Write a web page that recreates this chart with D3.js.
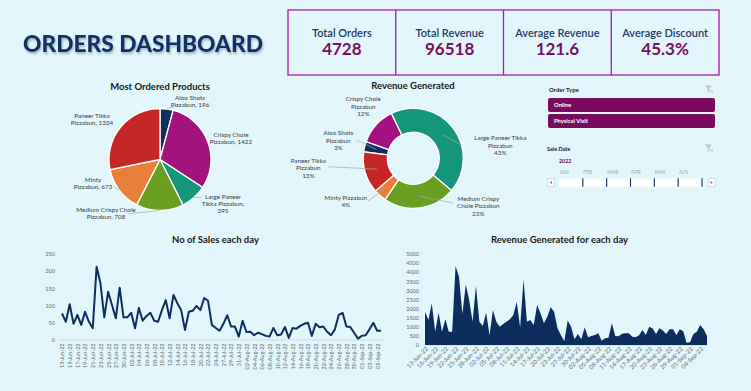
<!DOCTYPE html>
<html><head><meta charset="utf-8">
<script src="https://cdn.jsdelivr.net/npm/d3@7"></script>
<style>html,body{margin:0;padding:0;background:#e2f6fc;overflow:hidden}svg{display:block;font-family:Lato,"Open Sans",sans-serif}</style>
</head><body><svg id="c" width="751" height="391"></svg>
<script>
// ---------------- DATA ----------------
const products = ["Aloo Shots Pizzabun","Crispy Chole Pizzabun","Large Paneer Tikka Pizzabun","Medium Crispy Chole Pizzabun","Minty Pizzabun","Paneer Tikka Pizzabun"];
const productOrders = [196,1422,395,708,673,1334];
const productRevenue = [3185,11968,41889,22585,3957,12934];
const productColors = ["#0c2f5e","#a3127f","#14967b","#6a9f22","#e8803a","#c52727"];
const kpiLabels = ["Total Orders","Total Revenue","Average Revenue","Average Discount"];
const kpiValues = ["4728","96518","121.6","45.3%"];
const orderTypes = ["Online","Physical Visit"];
const saleYear = "2022";
const months = ["JAN","FEB","MAR","APR","MAY","JUN"];
const dates = ["13-Jun-22","14-Jun-22","15-Jun-22","16-Jun-22","17-Jun-22","18-Jun-22","19-Jun-22","20-Jun-22","21-Jun-22","22-Jun-22","23-Jun-22","24-Jun-22","25-Jun-22","26-Jun-22","27-Jun-22","28-Jun-22","30-Jun-22",
"01-Jul-22","02-Jul-22","03-Jul-22","04-Jul-22","05-Jul-22","06-Jul-22","07-Jul-22","08-Jul-22","09-Jul-22","10-Jul-22","11-Jul-22","12-Jul-22","13-Jul-22","14-Jul-22","15-Jul-22","16-Jul-22","17-Jul-22","18-Jul-22","19-Jul-22","20-Jul-22","21-Jul-22","22-Jul-22","23-Jul-22","24-Jul-22","26-Jul-22","27-Jul-22","28-Jul-22","29-Jul-22","30-Jul-22","31-Jul-22",
"01-Aug-22","02-Aug-22","03-Aug-22","04-Aug-22","05-Aug-22","06-Aug-22","07-Aug-22","08-Aug-22","09-Aug-22","10-Aug-22","11-Aug-22","12-Aug-22","13-Aug-22","14-Aug-22","15-Aug-22","16-Aug-22","17-Aug-22","18-Aug-22","19-Aug-22","20-Aug-22","21-Aug-22","22-Aug-22","23-Aug-22","24-Aug-22","25-Aug-22","26-Aug-22","27-Aug-22","28-Aug-22","29-Aug-22","30-Aug-22","31-Aug-22",
"01-Sep-22","02-Sep-22","03-Sep-22","04-Sep-22","05-Sep-22","06-Sep-22"];
const dailySales = [77,53,104,47,73,44,82,53,34,213,165,66,140,102,63,152,66,66,79,34,93,56,70,79,56,53,87,116,63,131,107,87,29,82,85,99,87,122,114,44,35,27,47,72,39,39,10,56,23,24,14,21,17,12,10,35,14,16,38,6,35,33,41,47,50,12,47,37,39,24,14,31,73,79,39,38,21,4,12,14,31,50,27,27];
const dailyRevenue = [1830,1370,2290,730,1775,730,1410,730,730,4340,3750,1700,3330,2470,1280,3260,1280,1040,1775,550,1920,1280,1000,1150,1280,1410,1650,2380,970,3600,1280,1370,1100,2200,1740,1190,1555,2070,1830,915,550,200,1340,1000,310,600,310,970,420,500,550,640,240,370,400,1190,500,480,620,640,640,450,420,530,820,550,1000,900,600,915,790,600,860,860,550,860,750,130,150,600,730,1100,860,500];
const salesTicks = [0,50,100,150,200,250];
const revenueTicks = [0,500,1000,1500,2000,2500,3000,3500,4000,4500,5000];

// ---------------- LAYOUT (label placement, not data) ----------------
const pieLabelLayout = [
  {lines:["Aloo Shots","Pizzabun, {v}"], c:[30,-58], lead:[17.7,-54]},
  {lines:["Crispy Chole","Pizzabun, {v}"], c:[71,-21]},
  {lines:["Large Paneer","Tikka Pizzabun,","{v}"], c:[63,44], lead:[41.7,37.7]},
  {lines:["Medium Crispy Chole","Pizzabun, {v}"], c:[-54,54], lead:[-31.7,54.3]},
  {lines:["Minty","Pizzabun, {v}"], c:[-67,23.5], lead:[-46,27]},
  {lines:["Paneer Tikka","Pizzabun, {v}"], c:[-68,-40]}
];
const donutLabelLayout = [
  {lines:["Aloo Shots","Pizzabun","{p}"], c:[-75,-18], lead:[-56.6,-18.3]},
  {lines:["Crispy Chole","Pizzabun","{p}"], c:[-50,-52]},
  {lines:["Large Paneer Tikka","Pizzabun","{p}"], c:[87,-13], lead:[48.4,-13.3]},
  {lines:["Medium Crispy","Chole Pizzabun","{p}"], c:[65,48], lead:[39.7,44.7]},
  {lines:["Minty Pizzabun","{p}"], c:[-67.5,43], lead:[-45.3,42.7]},
  {lines:["Paneer Tikka","Pizzabun","{p}"], c:[-105,10], lead:[-85.3,8.4]}
];

const svg = d3.select("#c");
svg.append("rect").attr("width",751).attr("height",391).attr("fill","#e2f6fc");
const defs = svg.append("defs");
defs.append("filter").attr("id","sh").attr("x","-5%").attr("y","-30%").attr("width","112%").attr("height","170%")
  .append("feDropShadow").attr("dx",1).attr("dy",2).attr("stdDeviation",1.1).attr("flood-color","#6f7f90").attr("flood-opacity",0.55);

// Title
svg.append("text").attr("x",23).attr("y",51.5).attr("textLength",240).attr("lengthAdjust","spacingAndGlyphs")
  .attr("font-size",23.5).attr("font-weight",900).attr("fill","#0f3164").attr("filter","url(#sh)").text("ORDERS DASHBOARD");

// KPI boxes
const kx = d3.scaleBand().domain(kpiLabels).range([288,719]);
const kpi = svg.append("g");
kpi.append("rect").attr("x",288).attr("y",10).attr("width",431).attr("height",65)
  .attr("fill","none").attr("stroke","#a31caa").attr("stroke-width",1.3);
kpi.selectAll("line").data(kpiLabels.slice(1)).join("line")
  .attr("x1",d=>kx(d)).attr("x2",d=>kx(d)).attr("y1",10).attr("y2",75)
  .attr("stroke","#a31caa").attr("stroke-width",1.3);
kpi.selectAll("text.kl").data(kpiLabels).join("text").attr("class","kl")
  .attr("x",d=>kx(d)+kx.bandwidth()/2).attr("y",37).attr("text-anchor","middle")
  .attr("font-size",11).attr("font-weight",600).attr("fill","#1f3a66").text(d=>d);
kpi.selectAll("text.kv").data(kpiValues).join("text").attr("class","kv")
  .attr("x",(d,i)=>kx(kpiLabels[i])+kx.bandwidth()/2).attr("y",55).attr("text-anchor","middle")
  .attr("font-size",17).attr("font-weight",700).attr("fill","#7a0e60").text(d=>d);

// Chart titles
function title(x,y,t){svg.append("text").attr("x",x).attr("y",y).attr("text-anchor","middle")
  .attr("font-size",9.5).attr("font-weight",700).attr("fill","#1a1a1a").text(t);}
title(160,89.5,"Most Ordered Products");
title(413,88.5,"Revenue Generated");
title(215.5,243,"No of Sales each day");
title(559.5,243,"Revenue Generated for each day");

function drawLabels(g, layout, fmt){
  layout.forEach((L,i)=>{
    const n = L.lines.length, lh = 7.2;
    const t = g.append("text").attr("text-anchor","middle").attr("font-size",6.3).attr("fill","#404040");
    L.lines.forEach((s,k)=>{
      t.append("tspan").attr("x",L.c[0]).attr("y",L.c[1]+(k-(n-1)/2)*lh+2.2).text(fmt(s,i));
    });
  });
}

// Pie: Most Ordered Products
const R1 = 51;
const pieGen = d3.pie().sort(null).value(d=>d);
const pieArcs = pieGen(productOrders);
const arc1 = d3.arc().innerRadius(0).outerRadius(R1);
const gp = svg.append("g").attr("transform","translate(160,159.5)");
gp.selectAll("path").data(pieArcs).join("path").attr("d",arc1)
  .attr("fill",(d,i)=>productColors[i]).attr("stroke","#fff").attr("stroke-width",1.3);
pieArcs.forEach((a,i)=>{
  const L = pieLabelLayout[i]; if(!L.lead) return;
  const m = (a.startAngle+a.endAngle)/2;
  gp.append("line").attr("x1",R1*Math.sin(m)).attr("y1",-R1*Math.cos(m)).attr("x2",L.lead[0]).attr("y2",L.lead[1])
    .attr("stroke","#a6a6a6").attr("stroke-width",0.7);
});
drawLabels(gp,pieLabelLayout,(s,i)=>s.replace("{v}",productOrders[i]));

// Donut: Revenue Generated
const totalRev = d3.sum(productRevenue);
const start2 = -82.5*Math.PI/180;
const donutGen = d3.pie().sort(null).value(d=>d).startAngle(start2).endAngle(start2+2*Math.PI);
const donutArcs = donutGen(productRevenue);
const arc2 = d3.arc().innerRadius(26).outerRadius(50);
const gd = svg.append("g").attr("transform","translate(413.3,158.3)");
gd.selectAll("path").data(donutArcs).join("path").attr("d",arc2)
  .attr("fill",(d,i)=>productColors[i]).attr("stroke","#fff").attr("stroke-width",1.3);
donutArcs.forEach((a,i)=>{
  const L = donutLabelLayout[i]; if(!L.lead) return;
  const c = arc2.centroid(a);
  gd.append("line").attr("x1",c[0]).attr("y1",c[1]).attr("x2",L.lead[0]).attr("y2",L.lead[1])
    .attr("stroke","#a6a6a6").attr("stroke-width",0.7);
});
const pct = d3.format(".0%");
drawLabels(gd,donutLabelLayout,(s,i)=>s.replace("{p}",pct(productRevenue[i]/totalRev)));

// Slicers
const sl = svg.append("g");
function funnel(x,y){
  const g = sl.append("g").attr("transform",`translate(${x},${y})`);
  g.append("path").attr("d","M0,0 H7 L4.3,3.2 V6.5 L2.7,7.3 V3.2 Z").attr("fill","#c4c4c4");
  g.append("path").attr("d","M5,4.5 L8,7.5 M8,4.5 L5,7.5").attr("stroke","#c4c4c4").attr("stroke-width",0.9);
}
sl.append("text").attr("x",549).attr("y",91.5).attr("font-size",6).attr("font-weight",700).attr("fill","#222").text("Order Type");
funnel(705,85.5);
const oy = d3.scaleBand().domain(orderTypes).range([98,128]).paddingInner(0.12);
sl.selectAll("rect.ot").data(orderTypes).join("rect").attr("class","ot")
  .attr("x",548).attr("y",d=>oy(d)).attr("width",167).attr("height",oy.bandwidth()).attr("rx",2)
  .attr("fill","#7a0b5d");
sl.selectAll("text.ot").data(orderTypes).join("text").attr("class","ot")
  .attr("x",554).attr("y",d=>oy(d)+oy.bandwidth()/2+2.1).attr("font-size",5.8).attr("font-weight",700)
  .attr("fill","#fff").text(d=>d);
sl.append("text").attr("x",547).attr("y",150.5).attr("font-size",5.5).attr("font-weight",700).attr("fill","#222").text("Sale Date");
funnel(705,144.5);
sl.append("text").attr("x",559).attr("y",162.5).attr("font-size",5.3).attr("font-weight",700).attr("fill","#7a0b5d").text(saleYear);
const mx = d3.scaleBand().domain(months).range([559,702]);
sl.selectAll("text.mo").data(months).join("text").attr("class","mo")
  .attr("x",d=>mx(d)+0.5).attr("y",174).attr("font-size",5).attr("fill","#a6a6a6").text(d=>d);
sl.append("rect").attr("x",559).attr("y",178.3).attr("width",143).attr("height",8.4).attr("fill","#fff");
sl.selectAll("line.mo").data(months).join("line").attr("class","mo")
  .attr("x1",d=>mx(d)+mx.bandwidth()).attr("x2",d=>mx(d)+mx.bandwidth()).attr("y1",178.3).attr("y2",186.7)
  .attr("stroke","#0f2d55").attr("stroke-width",1.1);
[[547.5,-1],[708.5,1]].forEach(([x,dir])=>{
  sl.append("rect").attr("x",x).attr("y",178.3).attr("width",6.5).attr("height",8.4).attr("fill","#fff").attr("stroke","#c8c8c8").attr("stroke-width",0.6);
  const cx = x+3.25, cy = 182.5;
  sl.append("path").attr("d",dir<0?`M${cx+1.2},${cy-1.8} L${cx-1.2},${cy} L${cx+1.2},${cy+1.8} Z`:`M${cx-1.2},${cy-1.8} L${cx+1.2},${cy} L${cx-1.2},${cy+1.8} Z`).attr("fill","#8a8a8a");
});

// Line chart: No of Sales each day
const xL = d3.scalePoint().domain(dates).range([62,381]);
const yL = d3.scaleLinear().domain([0,250]).range([340,254]);
const gl = svg.append("g");
gl.append("line").attr("x1",59).attr("x2",384).attr("y1",yL(0)).attr("y2",yL(0)).attr("stroke","#cfd4d8").attr("stroke-width",0.8);
const yAxL = gl.append("g").attr("transform","translate(57,0)")
  .call(d3.axisLeft(yL).tickValues(salesTicks).tickFormat(d3.format("d")).tickSize(0).tickPadding(2));
yAxL.select(".domain").remove();
yAxL.selectAll("text").attr("font-size",5.5).attr("fill","#666").attr("font-family","Lato,sans-serif");
const xAxL = gl.append("g").attr("transform",`translate(0,${yL(0)})`)
  .call(d3.axisBottom(xL).tickValues(dates.filter((d,i)=>i%2===0)).tickSize(0));
xAxL.select(".domain").remove();
xAxL.selectAll("text").attr("transform","rotate(-90)").attr("x",-3.5).attr("y",0).attr("dy","0.35em")
  .attr("text-anchor","end").attr("font-size",5.4).attr("fill","#666").attr("font-family","Lato,sans-serif");
gl.append("path").datum(dailySales)
  .attr("d",d3.line().x((d,i)=>xL(dates[i])).y(d=>yL(d)))
  .attr("fill","none").attr("stroke","#0d2f60").attr("stroke-width",2).attr("stroke-linejoin","round");

// Area chart: Revenue Generated for each day
const xA = d3.scalePoint().domain(dates).range([425,707]);
const yA = d3.scaleLinear().domain([0,5000]).range([345,254]);
const ga = svg.append("g");
const yAxA = ga.append("g").attr("transform","translate(421,0)")
  .call(d3.axisLeft(yA).tickValues(revenueTicks).tickFormat(d3.format("d")).tickSize(0).tickPadding(2));
yAxA.select(".domain").remove();
yAxA.selectAll("text").attr("font-size",5.5).attr("fill","#666").attr("font-family","Lato,sans-serif");
ga.append("path").datum(dailyRevenue)
  .attr("d",d3.area().x((d,i)=>xA(dates[i])).y0(yA(0)).y1(d=>yA(d)))
  .attr("fill","#0d2d5c");
const xAxA = ga.append("g").attr("transform",`translate(0,${yA(0)})`)
  .call(d3.axisBottom(xA).tickValues(dates.filter((d,i)=>i%3===0)).tickSize(0));
xAxA.select(".domain").attr("stroke","#cfd4d8").attr("stroke-width",0.6);
xAxA.selectAll("text").attr("transform","rotate(-45)").attr("x",-1).attr("y",3).attr("dy","0.35em")
  .attr("text-anchor","end").attr("font-size",6).attr("fill","#666").attr("font-family","Lato,sans-serif");
</script></body></html>
